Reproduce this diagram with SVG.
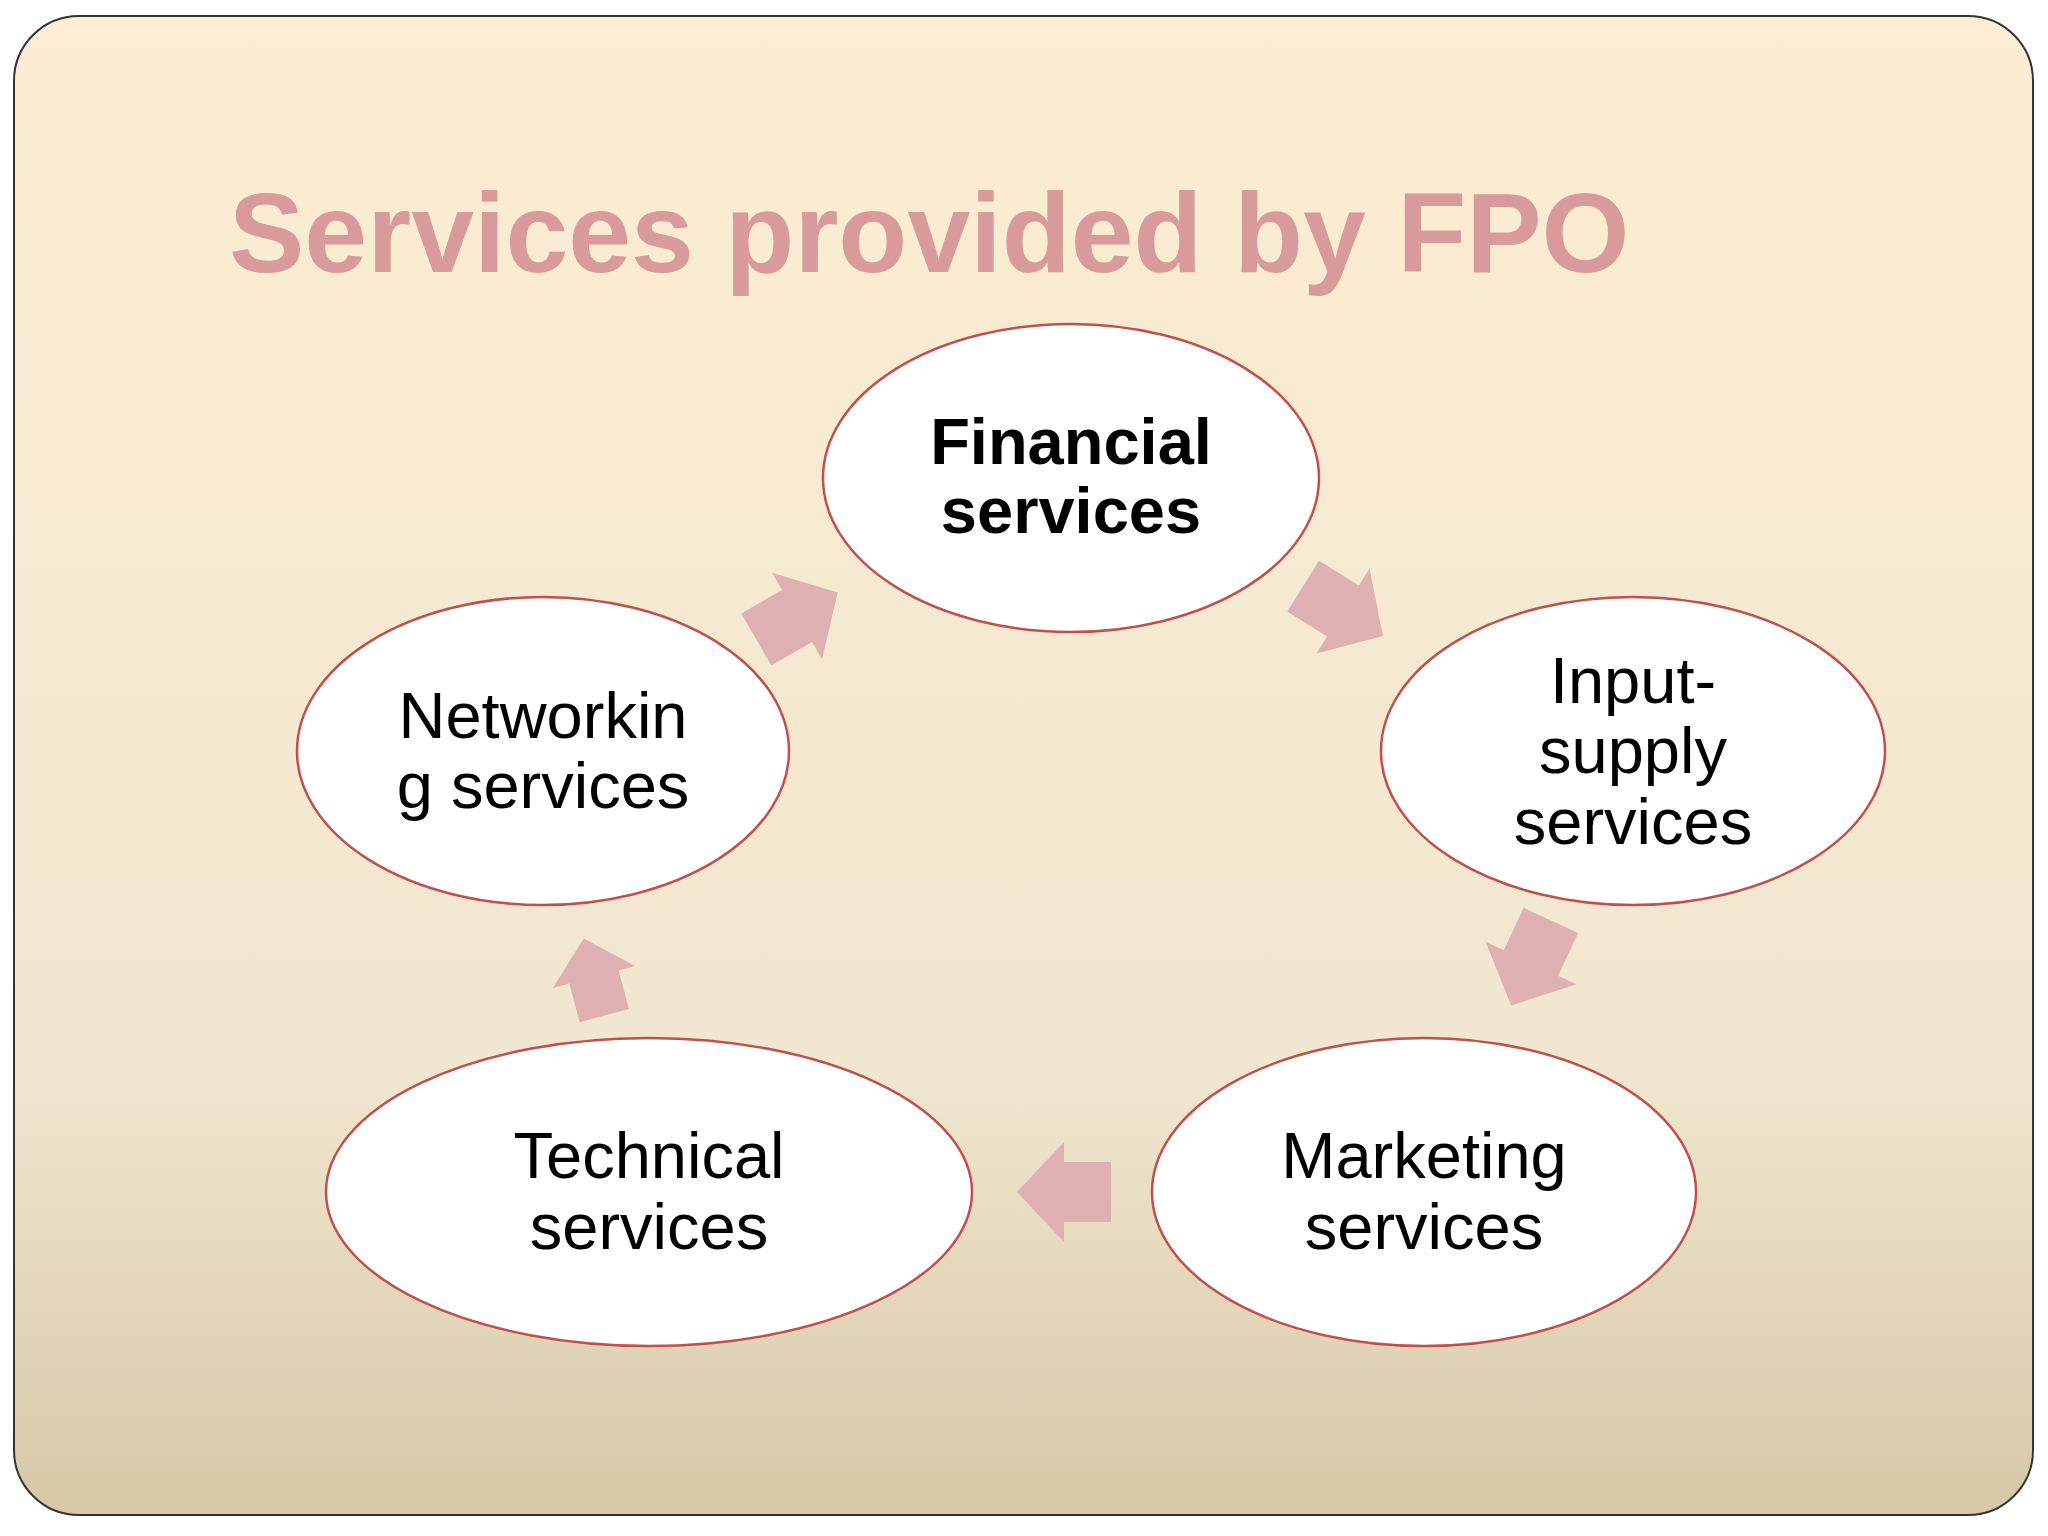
<svg xmlns="http://www.w3.org/2000/svg" width="2048" height="1536" viewBox="0 0 2048 1536">
<defs>
<linearGradient id="bg" x1="0" y1="0" x2="0" y2="1">
<stop offset="0" stop-color="#fcedd3"/>
<stop offset="0.7" stop-color="#f1e6d0"/>
<stop offset="1" stop-color="#d6c8a6"/>
</linearGradient>
<path id="arr" d="M-47,-30 L0,-30 L0,-50 L47,0 L0,50 L0,30 L-47,30 Z"/>
</defs>
<style>
.node{fill:#fff;stroke:#c0504d;stroke-width:2.5}
.t{font-family:"Liberation Sans",Arial,sans-serif;font-size:65px;fill:#000;text-anchor:middle}
.a{fill:#dfb0b0}
</style>
<rect width="2048" height="1536" fill="#fff"/>
<rect x="14" y="16" width="2019" height="1499" rx="65" fill="url(#bg)" stroke="#333" stroke-width="2"/>
<text x="229" y="272" font-family="Liberation Sans,Arial,sans-serif" font-weight="bold" font-size="113" fill="#d99a9a">Services provided by FPO</text>
<g id="connectors">
<use href="#arr" class="a" transform="translate(1343,611) rotate(32)"/>
<use href="#arr" class="a" transform="translate(1531,963) rotate(115)"/>
<use href="#arr" class="a" transform="translate(1064,1192) rotate(180)"/>
<use href="#arr" class="a" transform="translate(594,977) rotate(-105) scale(0.85)"/>
<use href="#arr" class="a" transform="translate(797,616) rotate(-30)"/>
</g>
<g id="financial"><ellipse class="node" cx="1071" cy="478" rx="248" ry="154"/>
<text class="t" font-weight="bold" x="1071" y="464">Financial</text><text class="t" font-weight="bold" x="1071" y="533">services</text></g>
<g id="input"><ellipse class="node" cx="1633" cy="751" rx="252" ry="154"/>
<text class="t" x="1633" y="703">Input-</text><text class="t" x="1633" y="773">supply</text><text class="t" x="1633" y="844">services</text></g>
<g id="marketing"><ellipse class="node" cx="1424" cy="1192" rx="272" ry="154"/>
<text class="t" x="1424" y="1178">Marketing</text><text class="t" x="1424" y="1249">services</text></g>
<g id="technical"><ellipse class="node" cx="649" cy="1192" rx="323" ry="154"/>
<text class="t" x="649" y="1178">Technical</text><text class="t" x="649" y="1249">services</text></g>
<g id="networking"><ellipse class="node" cx="543" cy="751" rx="246" ry="154"/>
<text class="t" x="543" y="738">Networkin</text><text class="t" x="543" y="808">g services</text></g>
</svg>
